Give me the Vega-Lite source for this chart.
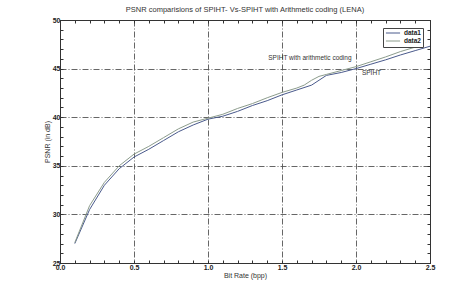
{
  "$schema": "https://vega.github.io/schema/vega-lite/v6.json",
  "width": 370,
  "height": 243,
  "autosize": {"type": "none"},
  "padding": {"left": 60, "top": 20, "right": 44, "bottom": 32},
  "background": "white",
  "config": {
    "font": "Liberation Sans",
    "view": {"stroke": "#333", "strokeWidth": 1}
  },
  "title": {
    "text": "PSNR comparisions of SPIHT- Vs-SPIHT with Arithmetic coding (LENA)",
    "fontSize": 7.5,
    "fontWeight": "normal",
    "color": "#333",
    "offset": 3,
    "anchor": "middle"
  },
  "datasets": {
    "curves": [
      {"rate": 0.1, "psnr": 27.0, "series": "data1"},
      {"rate": 0.2, "psnr": 30.5, "series": "data1"},
      {"rate": 0.3, "psnr": 33.0, "series": "data1"},
      {"rate": 0.4, "psnr": 34.7, "series": "data1"},
      {"rate": 0.5, "psnr": 35.9, "series": "data1"},
      {"rate": 0.6, "psnr": 36.7, "series": "data1"},
      {"rate": 0.7, "psnr": 37.6, "series": "data1"},
      {"rate": 0.8, "psnr": 38.5, "series": "data1"},
      {"rate": 0.9, "psnr": 39.2, "series": "data1"},
      {"rate": 1.0, "psnr": 39.8, "series": "data1"},
      {"rate": 1.1, "psnr": 40.1, "series": "data1"},
      {"rate": 1.2, "psnr": 40.6, "series": "data1"},
      {"rate": 1.3, "psnr": 41.2, "series": "data1"},
      {"rate": 1.4, "psnr": 41.7, "series": "data1"},
      {"rate": 1.5, "psnr": 42.3, "series": "data1"},
      {"rate": 1.6, "psnr": 42.8, "series": "data1"},
      {"rate": 1.7, "psnr": 43.3, "series": "data1"},
      {"rate": 1.75, "psnr": 43.8, "series": "data1"},
      {"rate": 1.8, "psnr": 44.3, "series": "data1"},
      {"rate": 1.9, "psnr": 44.6, "series": "data1"},
      {"rate": 2.0, "psnr": 45.0, "series": "data1"},
      {"rate": 2.1, "psnr": 45.45, "series": "data1"},
      {"rate": 2.2, "psnr": 45.9, "series": "data1"},
      {"rate": 2.3, "psnr": 46.4, "series": "data1"},
      {"rate": 2.4, "psnr": 46.85, "series": "data1"},
      {"rate": 2.5, "psnr": 47.3, "series": "data1"},
      {"rate": 0.1, "psnr": 27.1, "series": "data2"},
      {"rate": 0.2, "psnr": 30.9, "series": "data2"},
      {"rate": 0.3, "psnr": 33.3, "series": "data2"},
      {"rate": 0.4, "psnr": 35.0, "series": "data2"},
      {"rate": 0.5, "psnr": 36.2, "series": "data2"},
      {"rate": 0.6, "psnr": 37.0, "series": "data2"},
      {"rate": 0.7, "psnr": 37.9, "series": "data2"},
      {"rate": 0.8, "psnr": 38.8, "series": "data2"},
      {"rate": 0.9, "psnr": 39.5, "series": "data2"},
      {"rate": 1.0, "psnr": 39.9, "series": "data2"},
      {"rate": 1.1, "psnr": 40.3, "series": "data2"},
      {"rate": 1.2, "psnr": 40.9, "series": "data2"},
      {"rate": 1.3, "psnr": 41.4, "series": "data2"},
      {"rate": 1.4, "psnr": 42.0, "series": "data2"},
      {"rate": 1.5, "psnr": 42.55, "series": "data2"},
      {"rate": 1.6, "psnr": 43.0, "series": "data2"},
      {"rate": 1.65, "psnr": 43.3, "series": "data2"},
      {"rate": 1.7, "psnr": 43.8, "series": "data2"},
      {"rate": 1.75, "psnr": 44.2, "series": "data2"},
      {"rate": 1.8, "psnr": 44.4, "series": "data2"},
      {"rate": 1.9, "psnr": 44.8, "series": "data2"},
      {"rate": 2.0, "psnr": 45.2, "series": "data2"},
      {"rate": 2.1, "psnr": 45.7, "series": "data2"},
      {"rate": 2.2, "psnr": 46.2, "series": "data2"},
      {"rate": 2.3, "psnr": 46.75, "series": "data2"},
      {"rate": 2.42, "psnr": 47.3, "series": "data2"}
    ],
    "noteRight": [
      {"rate": 1.97, "psnr": 46.1, "label": "SPIHT with arithmetic coding"}
    ],
    "noteLeft": [
      {"rate": 2.04, "psnr": 44.5, "label": "SPIHT"}
    ]
  },
  "layer": [
    {
      "data": {"name": "curves"},
      "mark": {"type": "line", "strokeWidth": 1},
      "encoding": {
        "x": {
          "field": "rate", "type": "quantitative",
          "scale": {"domain": [0, 2.5], "nice": false, "zero": false},
          "axis": {
            "title": "Bit Rate (bpp)",
            "titleFontSize": 7, "titleFontWeight": "normal", "titleColor": "#333", "titlePadding": 1,
            "values": [0, 0.1, 0.2, 0.3, 0.4, 0.5, 0.6, 0.7, 0.8, 0.9, 1, 1.1, 1.2, 1.3, 1.4, 1.5, 1.6, 1.7, 1.8, 1.9, 2, 2.1, 2.2, 2.3, 2.4, 2.5],
            "labelExpr": "abs(datum.value*2 - round(datum.value*2)) < 0.001 ? datum.label : ''",
            "labelFontSize": 7, "labelFontWeight": "bold", "labelColor": "#222",
            "labelFlush": false,
            "labelPadding": 3,
            "tickSize": -3, "tickColor": "#333",
            "domainColor": "#333",
            "grid": true,
            "gridColor": "#555", "gridWidth": 0.9, "gridDash": [6, 2, 1, 2],
            "gridOpacity": {"condition": {"test": "abs(datum.value*2 - round(datum.value*2)) < 0.001 && datum.value > 0.01 && datum.value < 2.49", "value": 1}, "value": 0}
          }
        },
        "y": {
          "field": "psnr", "type": "quantitative",
          "scale": {"domain": [25, 50], "nice": false, "zero": false},
          "axis": {
            "title": "PSNR (in dB)",
            "titleFontSize": 7, "titleFontWeight": "normal", "titleColor": "#333", "titlePadding": 2,
            "values": [25, 26, 27, 28, 29, 30, 31, 32, 33, 34, 35, 36, 37, 38, 39, 40, 41, 42, 43, 44, 45, 46, 47, 48, 49, 50],
            "labelExpr": "datum.value % 5 === 0 ? datum.label : ''",
            "labelFontSize": 7, "labelFontWeight": "bold", "labelColor": "#222",
            "labelFlush": false,
            "labelPadding": 3,
            "tickSize": -3, "tickColor": "#333",
            "domainColor": "#333",
            "grid": true,
            "gridColor": "#555", "gridWidth": 0.9, "gridDash": [6, 2, 1, 2],
            "gridOpacity": {"condition": {"test": "datum.value % 5 === 0 && datum.value > 25 && datum.value < 50", "value": 1}, "value": 0}
          }
        },
        "color": {
          "field": "series", "type": "nominal",
          "scale": {"domain": ["data1", "data2"], "range": ["#4a5a8c", "#8c9c8c"]},
          "legend": {
            "title": null,
            "orient": "none",
            "legendX": 323,
            "legendY": 8,
            "symbolType": "stroke",
            "symbolSize": 200,
            "symbolStrokeWidth": 1,
            "clipHeight": 6,
            "labelFontSize": 6.5,
            "labelFontWeight": "bold",
            "labelColor": "#222",
            "labelOffset": 3,
            "rowPadding": 1,
            "padding": 2,
            "strokeColor": "#444",
            "fillColor": "white"
          }
        }
      }
    },
    {
      "data": {"name": "noteRight"},
      "mark": {"type": "text", "fontSize": 6.5, "color": "#333", "align": "right", "baseline": "middle"},
      "encoding": {
        "x": {
          "field": "rate", "type": "quantitative",
          "axis": {
            "orient": "top", "title": null, "labels": false, "grid": false,
            "values": [0, 0.1, 0.2, 0.3, 0.4, 0.5, 0.6, 0.7, 0.8, 0.9, 1, 1.1, 1.2, 1.3, 1.4, 1.5, 1.6, 1.7, 1.8, 1.9, 2, 2.1, 2.2, 2.3, 2.4, 2.5],
            "tickSize": -3, "tickColor": "#333", "domainColor": "#333"
          }
        },
        "y": {
          "field": "psnr", "type": "quantitative",
          "axis": {
            "orient": "right", "title": null, "labels": false, "grid": false,
            "values": [25, 26, 27, 28, 29, 30, 31, 32, 33, 34, 35, 36, 37, 38, 39, 40, 41, 42, 43, 44, 45, 46, 47, 48, 49, 50],
            "tickSize": -3, "tickColor": "#333", "domainColor": "#333"
          }
        },
        "text": {"field": "label"}
      }
    },
    {
      "data": {"name": "noteLeft"},
      "mark": {"type": "text", "fontSize": 6.5, "color": "#333", "align": "left", "baseline": "middle"},
      "encoding": {
        "x": {"field": "rate", "type": "quantitative", "axis": null},
        "y": {"field": "psnr", "type": "quantitative", "axis": null},
        "text": {"field": "label"}
      }
    }
  ],
  "resolve": {"axis": {"x": "independent", "y": "independent"}}
}
